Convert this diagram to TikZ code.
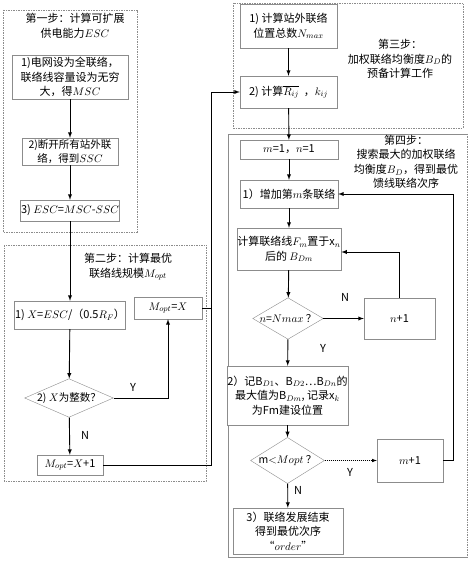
\documentclass[tikz,border=0pt]{standalone}
\usepackage{fontspec}
\setmainfont{Noto Sans CJK SC}
\usetikzlibrary{positioning,shapes.geometric,arrows,calc}
\definecolor{boxgray}{HTML}{8C8C8C}

\tikzset{
  txt/.style={align=center, font=\fontsize{11}{14.5}\selectfont},
  box/.style={txt, draw=boxgray, fill=white, inner sep=0.5pt},
  decision/.style={txt, font=\fontsize{10.5}{13}\selectfont, diamond, draw=boxgray, fill=white, inner sep=0pt},
  grp/.style={draw=boxgray, dash pattern=on 1.5pt off 1pt, line width=0.6pt},
  arr/.style={line width=0.9pt, -latex},
  yn/.style={font=\fontsize{11}{13}\selectfont}
}

\begin{document}
\begin{tikzpicture}[x=1pt, y=-1pt]
  \useasboundingbox (0,0) rectangle (474,561);

  % step one
  \draw[grp] (3,10) rectangle (137,232);
  \node[txt] (title1) at (75,26) {第一步：计算可扩展\\供电能力$ESC$};
  \node[box, minimum width=116pt, minimum height=44pt] (s1a) at (70,77)
    {1)电网设为全联络，\\联络线容量设为无穷\\大，得$MSC$};
  \node[box, font=\fontsize{10.5}{14}\selectfont, minimum width=96pt, minimum height=27pt] (s1b) at (70,151.5)
    {2)断开所有站外联\\络，得到$SSC$};
  \node[box, minimum width=96pt, minimum height=21pt] (s1c) at (70,210.5)
    {3) $ESC$=$MSC$-$SSC$};

  % step two
  \draw[grp] (4,245) rectangle (206,481);
  \node[txt] (title2) at (128,267) {第二步：计算最优\\联络线规模$M_{opt}$};
  \node[box, minimum width=94pt, minimum height=28pt] (s2a) at (70,315)
    {1) $X$=$ESC$/（0.5$R_F$）};
  \node[box, minimum width=68pt, minimum height=22pt] (s2opt) at (168,308)
    {$M_{opt}$=$X$};
  \node[decision, minimum width=88pt, minimum height=38pt, aspect=2.3] (s2dec) at (69,398)
    {2) $X$为整数？};
  \node[box, minimum width=66pt, minimum height=20pt] (s2plus) at (70,465)
    {$M_{opt}$=$X$+1};
  \node[yn] (y1) at (133,387) {Y};
  \node[yn] (n1) at (85,435) {N};

  % step three
  \draw[grp] (233,3) rectangle (463,128);
  \node[box, minimum width=97pt, minimum height=44pt] (s3a) at (288.5,26)
    {1) 计算站外联络\\位置总数$N_{max}$};
  \node[box, minimum width=97pt, minimum height=32pt] (s3b) at (288.5,92)
    {2) 计算$\overline{R_{ij}}$\ \ ，$k_{ij}$};
  \node[txt] (title3) at (400,59) {第三步：\\加权联络均衡度$B_D$的\\预备计算工作};

  % step four
  \draw[boxgray, line width=0.6pt] (467,134) -- (228,134) -- (228,557) -- (467,557);
  \draw[grp] (467,134) -- (467,557);
  \node[box, minimum width=98pt, minimum height=19pt] (s4init) at (289,149.5)
    {$m$=1，$n$=1};
  \node[box, minimum width=98pt, minimum height=28pt] (s4add) at (289,194)
    {1）增加第$m$条联络};
  \node[box, minimum width=98pt, minimum height=42pt] (s4calc) at (289,249)
    {计算联络线$F_m$置于x$_n$\\后的 $B_{Dm}$};
  \node[txt] (title4) at (406,162)
    {第四步：\\搜索最大的加权联络\\均衡度$B_D$，得到最优\\馈线联络次序};
  \node[decision, minimum width=69pt, minimum height=41pt, aspect=1.7] (s4dec1) at (288,318.5)
    {$n$=$Nmax$ ？};
  \node[box, minimum width=71pt, minimum height=41pt] (s4n1) at (399.5,318.5) {$n$+1};
  \node[box, minimum width=111pt, minimum height=59pt] (s4rec) at (287.5,395.5)
    {2）记B$_{D1}$、B$_{D2}$…B$_{Dn}$的\\最大值为B$_{Dm}$, 记录x$_k$\\为Fm建设位置};
  \node[decision, minimum width=65pt, minimum height=41pt, aspect=1.6] (s4dec2) at (287.5,460.5)
    {m$<$$Mopt$ ？};
  \node[box, minimum width=66pt, minimum height=43pt] (s4m1) at (410,460.5) {$m$+1};
  \node[box, minimum width=110pt, minimum height=46pt] (s4end) at (288,531)
    {3）联络发展结束\\得到最优次序\\“$order$”};
  \node[yn] (n2) at (345,297) {N};
  \node[yn] (y2) at (323,348) {Y};
  \node[yn] (y3) at (350,472) {Y};
  \node[yn] (n3) at (298,490) {N};

  % connectors
  \draw[arr] (s1a) -- (s1b);
  \draw[arr] (s1b) -- (s1c);
  \draw[arr] (s1c) -- (s2a);
  \draw[arr] (s2a) -- (s2dec);
  \draw[arr] (s2dec.east) -| (s2opt.south);
  \draw[arr] (s2dec) -- (s2plus);
  \coordinate (bus) at ($(s2opt.east)+(9,0)$);
  \draw[line width=0.9pt] (s2plus.east) -| (bus);
  \draw[arr] (s2opt.east) -- (bus) |- (s3b.west);
  \draw[arr] (s3a) -- (s3b);
  \draw[arr] (s3b) -- (s4init);
  \draw[arr] (s4init) -- (s4add);
  \draw[arr] (s4add) -- (s4calc);
  \draw[arr] (s4calc) -- (s4dec1);
  \draw[arr] (s4dec1) -- (s4n1);
  \draw[arr] (s4n1.north) |- ($(s4calc.east)+(0,3)$);
  \draw[arr] (s4dec1) -- (s4rec);
  \draw[arr] (s4rec) -- (s4dec2);
  \draw[arr, line width=0.6pt, dash pattern=on 1pt off 1pt] (s4dec2) -- (s4m1);
  \draw[arr] (s4m1.east) -- ++(10,0) |- (s4add.east);
  \draw[arr] (s4dec2) -- (s4end);
\end{tikzpicture}
\end{document}
